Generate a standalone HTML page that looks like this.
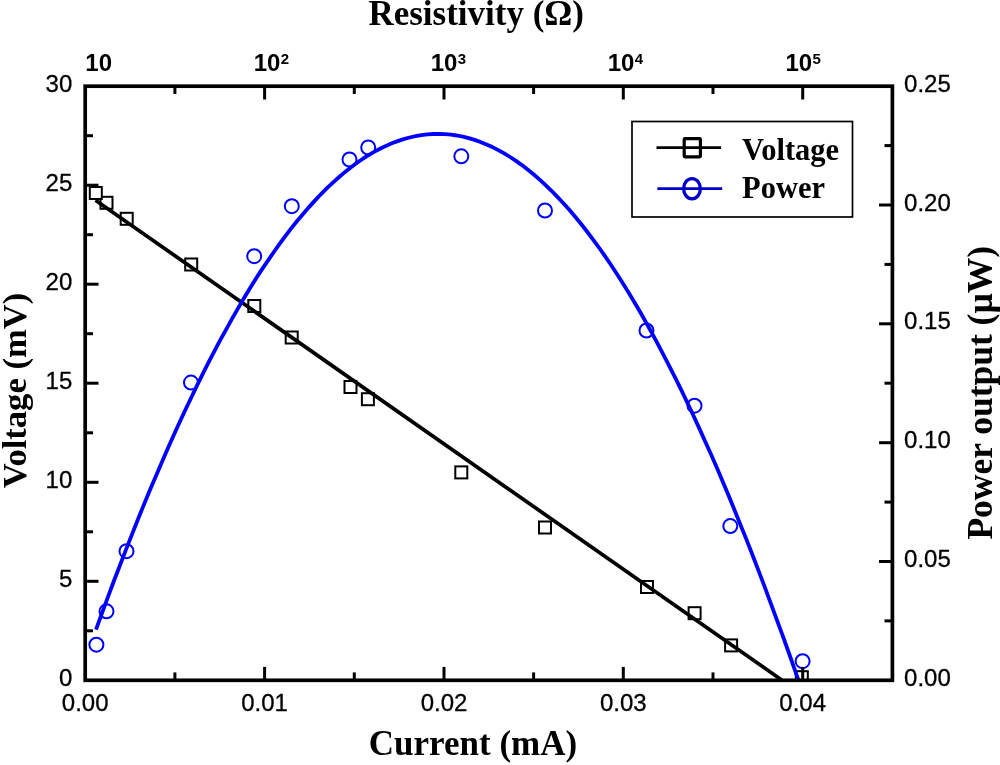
<!DOCTYPE html>
<html lang="en"><head><meta charset="utf-8"><title>Voltage and power output vs current</title>
<style>html,body{margin:0;padding:0;background:#fff}body{width:1000px;height:765px;overflow:hidden}svg{display:block;filter:blur(0.4px)}.tk{font-family:"Liberation Sans",sans-serif;font-size:24px;fill:#000;stroke:#000;stroke-width:0.3px}.tb{font-family:"Liberation Sans",sans-serif;font-weight:bold;font-size:24px;fill:#000}.ti{font-family:"Liberation Serif",serif;font-weight:bold;font-size:35px;fill:#000}.lg{font-family:"Liberation Serif",serif;font-weight:bold;font-size:30.5px;fill:#000}</style></head><body>
<svg width="1000" height="765" viewBox="0 0 1000 765">
<rect x="0" y="0" width="1000" height="765" fill="#fff"/>
<defs><clipPath id="pc"><rect x="85.2" y="86.2" width="807.2" height="594.1"/></clipPath></defs>
<g clip-path="url(#pc)">
<g fill="#fff" stroke="#000" stroke-width="2">
<rect x="795.8" y="671.2" width="12.0" height="12.0"/>
<rect x="725.1" y="639.4" width="12.0" height="12.0"/>
<rect x="688.6" y="607.2" width="12.0" height="12.0"/>
<rect x="641.0" y="581.0" width="12.0" height="12.0"/>
<rect x="539.0" y="521.5" width="12.0" height="12.0"/>
<rect x="455.3" y="466.4" width="12.0" height="12.0"/>
<rect x="361.9" y="393.2" width="12.0" height="12.0"/>
<rect x="344.5" y="381.0" width="12.0" height="12.0"/>
<rect x="285.7" y="331.5" width="12.0" height="12.0"/>
<rect x="248.3" y="300.0" width="12.0" height="12.0"/>
<rect x="185.2" y="258.5" width="12.0" height="12.0"/>
<rect x="120.7" y="212.8" width="12.0" height="12.0"/>
<rect x="100.5" y="196.8" width="12.0" height="12.0"/>
<rect x="89.8" y="187.0" width="12.0" height="12.0"/>
</g>
<g fill="none" stroke="#0000ff" stroke-width="2">
<circle cx="96.4" cy="644.7" r="7.0"/>
<circle cx="106.5" cy="611.3" r="7.0"/>
<circle cx="126.5" cy="551.2" r="7.0"/>
<circle cx="191.0" cy="382.6" r="7.0"/>
<circle cx="254.2" cy="256.2" r="7.0"/>
<circle cx="291.8" cy="206.2" r="7.0"/>
<circle cx="349.5" cy="159.5" r="7.0"/>
<circle cx="368.2" cy="147.5" r="7.0"/>
<circle cx="461.3" cy="156.3" r="7.0"/>
<circle cx="545.0" cy="210.5" r="7.0"/>
<circle cx="646.5" cy="330.5" r="7.0"/>
<circle cx="694.5" cy="405.7" r="7.0"/>
<circle cx="730.3" cy="526.1" r="7.0"/>
<circle cx="802.6" cy="661.2" r="7.0"/>
</g>
<line x1="95.5" y1="200.2" x2="783" y2="680.9" stroke="#000" stroke-width="3.7"/>
<path d="M96.0,629.6 L101.9,613.4 L107.8,597.3 L113.7,581.5 L119.7,566.0 L125.6,550.6 L131.5,535.6 L137.4,520.7 L143.3,506.1 L149.2,491.8 L155.2,477.7 L161.1,463.9 L167.0,450.3 L172.9,437.0 L178.8,424.0 L184.7,411.2 L190.7,398.7 L196.6,386.4 L202.5,374.4 L208.4,362.7 L214.3,351.3 L220.2,340.2 L226.2,329.3 L232.1,318.7 L238.0,308.4 L243.9,298.3 L249.8,288.6 L255.7,279.1 L261.6,269.9 L267.6,261.1 L273.5,252.5 L279.4,244.2 L285.3,236.2 L291.2,228.4 L297.1,221.0 L303.1,213.9 L309.0,207.1 L314.9,200.6 L320.8,194.3 L326.7,188.4 L332.6,182.8 L338.6,177.5 L344.5,172.4 L350.4,167.7 L356.3,163.3 L362.2,159.2 L368.1,155.4 L374.1,151.9 L380.0,148.8 L385.9,145.9 L391.8,143.3 L397.7,141.1 L403.6,139.1 L409.5,137.5 L415.5,136.2 L421.4,135.1 L427.3,134.4 L433.2,134.0 L439.1,133.9 L445.0,134.2 L451.0,134.7 L456.9,135.5 L462.8,136.7 L468.7,138.1 L474.6,139.9 L480.5,142.0 L486.5,144.4 L492.4,147.1 L498.3,150.1 L504.2,153.4 L510.1,157.0 L516.0,160.9 L521.9,165.1 L527.9,169.7 L533.8,174.5 L539.7,179.6 L545.6,185.1 L551.5,190.8 L557.4,196.9 L563.4,203.2 L569.3,209.8 L575.2,216.8 L581.1,224.0 L587.0,231.5 L592.9,239.3 L598.9,247.5 L604.8,255.9 L610.7,264.5 L616.6,273.5 L622.5,282.8 L628.4,292.3 L634.4,302.2 L640.3,312.3 L646.2,322.7 L652.1,333.4 L658.0,344.3 L663.9,355.6 L669.8,367.1 L675.8,378.8 L681.7,390.9 L687.6,403.2 L693.5,415.7 L699.4,428.6 L705.3,441.7 L711.3,455.0 L717.2,468.6 L723.1,482.5 L729.0,496.6 L734.9,511.0 L740.8,525.6 L746.8,540.4 L752.7,555.5 L758.6,570.9 L764.5,586.4 L770.4,602.3 L776.3,618.3 L782.3,634.6 L788.2,651.0 L794.1,667.8 L800.0,684.7" fill="none" stroke="#0000ff" stroke-width="3.8" stroke-linejoin="round"/>
</g>
<g stroke="#000" stroke-width="3.0" fill="none">
<line x1="174.9" y1="680.3" x2="174.9" y2="672.4"/>
<line x1="174.9" y1="86.2" x2="174.9" y2="94.0"/>
<line x1="264.6" y1="680.3" x2="264.6" y2="666.9"/>
<line x1="264.6" y1="86.2" x2="264.6" y2="99.5"/>
<line x1="354.3" y1="680.3" x2="354.3" y2="672.4"/>
<line x1="354.3" y1="86.2" x2="354.3" y2="94.0"/>
<line x1="444.0" y1="680.3" x2="444.0" y2="666.9"/>
<line x1="444.0" y1="86.2" x2="444.0" y2="99.5"/>
<line x1="533.6" y1="680.3" x2="533.6" y2="672.4"/>
<line x1="533.6" y1="86.2" x2="533.6" y2="94.0"/>
<line x1="623.3" y1="680.3" x2="623.3" y2="666.9"/>
<line x1="623.3" y1="86.2" x2="623.3" y2="99.5"/>
<line x1="713.0" y1="680.3" x2="713.0" y2="672.4"/>
<line x1="713.0" y1="86.2" x2="713.0" y2="94.0"/>
<line x1="802.7" y1="680.3" x2="802.7" y2="666.9"/>
<line x1="802.7" y1="86.2" x2="802.7" y2="99.5"/>
<line x1="85.2" y1="630.8" x2="93.0" y2="630.8"/>
<line x1="85.2" y1="581.3" x2="98.5" y2="581.3"/>
<line x1="85.2" y1="531.8" x2="93.0" y2="531.8"/>
<line x1="85.2" y1="482.3" x2="98.5" y2="482.3"/>
<line x1="85.2" y1="432.8" x2="93.0" y2="432.8"/>
<line x1="85.2" y1="383.2" x2="98.5" y2="383.2"/>
<line x1="85.2" y1="333.7" x2="93.0" y2="333.7"/>
<line x1="85.2" y1="284.2" x2="98.5" y2="284.2"/>
<line x1="85.2" y1="234.7" x2="93.0" y2="234.7"/>
<line x1="85.2" y1="185.2" x2="98.5" y2="185.2"/>
<line x1="85.2" y1="135.7" x2="93.0" y2="135.7"/>
<line x1="892.4" y1="620.9" x2="884.5" y2="620.9"/>
<line x1="892.4" y1="561.5" x2="879.0" y2="561.5"/>
<line x1="892.4" y1="502.1" x2="884.5" y2="502.1"/>
<line x1="892.4" y1="442.7" x2="879.0" y2="442.7"/>
<line x1="892.4" y1="383.2" x2="884.5" y2="383.2"/>
<line x1="892.4" y1="323.8" x2="879.0" y2="323.8"/>
<line x1="892.4" y1="264.4" x2="884.5" y2="264.4"/>
<line x1="892.4" y1="205.0" x2="879.0" y2="205.0"/>
<line x1="892.4" y1="145.6" x2="884.5" y2="145.6"/>
</g>
<rect x="85.2" y="86.2" width="807.2" height="594.1" fill="none" stroke="#000" stroke-width="3.7"/>
<text class="tk" x="72.3" y="685.9" text-anchor="end">0</text>
<text class="tk" x="72.3" y="586.9" text-anchor="end">5</text>
<text class="tk" x="72.3" y="487.9" text-anchor="end">10</text>
<text class="tk" x="72.3" y="388.9" text-anchor="end">15</text>
<text class="tk" x="72.3" y="289.8" text-anchor="end">20</text>
<text class="tk" x="72.3" y="190.8" text-anchor="end">25</text>
<text class="tk" x="72.3" y="91.8" text-anchor="end">30</text>
<text class="tk" x="904.1" y="685.9">0.00</text>
<text class="tk" x="904.1" y="567.1">0.05</text>
<text class="tk" x="904.1" y="448.3">0.10</text>
<text class="tk" x="904.1" y="329.4">0.15</text>
<text class="tk" x="904.1" y="210.6">0.20</text>
<text class="tk" x="904.1" y="91.8">0.25</text>
<text class="tk" x="85.2" y="711.3" text-anchor="middle">0.00</text>
<text class="tk" x="264.6" y="711.3" text-anchor="middle">0.01</text>
<text class="tk" x="444.0" y="711.3" text-anchor="middle">0.02</text>
<text class="tk" x="623.3" y="711.3" text-anchor="middle">0.03</text>
<text class="tk" x="802.7" y="711.3" text-anchor="middle">0.04</text>
<text class="tb" x="85.3" y="71.3">10</text>
<text class="tb" x="253.7" y="71.3">10<tspan font-size="15" dy="-7.4" dx="0.3">2</tspan></text>
<text class="tb" x="430.7" y="71.3">10<tspan font-size="15" dy="-7.4" dx="0.3">3</tspan></text>
<text class="tb" x="607.7" y="71.3">10<tspan font-size="15" dy="-7.4" dx="0.3">4</tspan></text>
<text class="tb" x="785.5" y="71.3">10<tspan font-size="15" dy="-7.4" dx="0.3">5</tspan></text>
<text class="ti" x="476.2" y="25" text-anchor="middle">Resistivity (Ω)</text>
<text class="ti" x="473" y="755.4" text-anchor="middle">Current (mA)</text>
<text class="ti" transform="translate(26.2,390.6) rotate(-90) scale(0.988,0.97)" text-anchor="middle">Voltage (mV)</text>
<text class="ti" transform="translate(992.3,392.7) rotate(-90) scale(1.014,1.0)" text-anchor="middle">Power output (µW)</text>
<rect x="632" y="121.5" width="220.5" height="95.5" fill="#fff" stroke="#000" stroke-width="1.7"/>
<line x1="656.5" y1="147.6" x2="721.1" y2="147.6" stroke="#000" stroke-width="2.7"/>
<rect x="684.2" y="138.6" width="16.2" height="18.3" rx="0.8" fill="none" stroke="#000" stroke-width="3.2"/>
<line x1="657.3" y1="188.6" x2="722.2" y2="188.6" stroke="#0000c8" stroke-width="2.8"/>
<ellipse cx="692" cy="188.7" rx="8.4" ry="10.1" fill="none" stroke="#0000c8" stroke-width="3.3"/>
<text class="lg" x="742" y="160.2">Voltage</text>
<text class="lg" x="742" y="198">Power</text>
</svg></body></html>
